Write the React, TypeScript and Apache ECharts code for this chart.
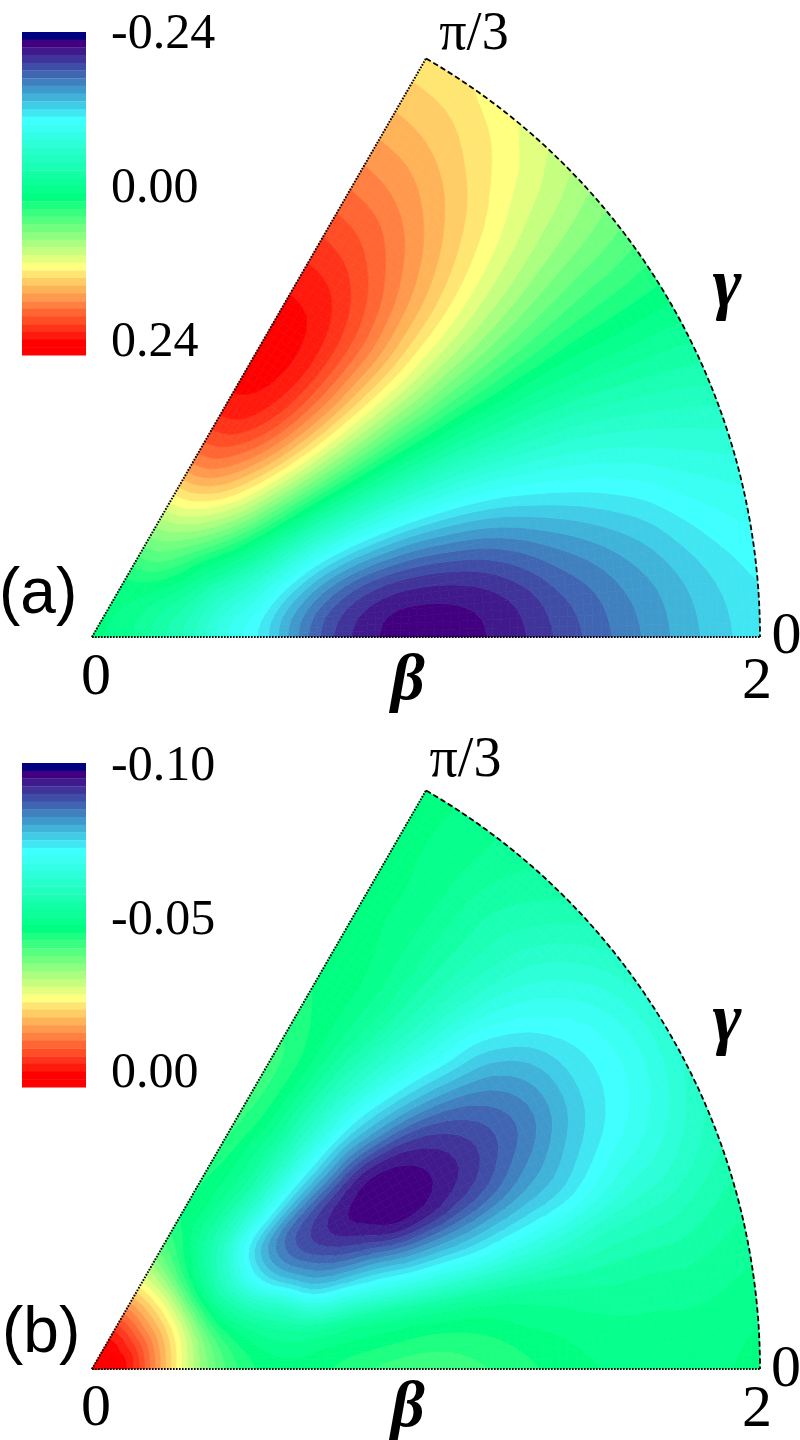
import React, { useEffect, useRef } from "react";
import * as echarts from "echarts";

const betaValues = [0, 0.1, 0.2, 0.3, 0.4, 0.5, 0.6, 0.7, 0.8, 0.9, 1.0, 1.1, 1.2, 1.3, 1.4, 1.5, 1.6, 1.7, 1.8, 1.9, 2.0];
const gammaValues = [0, 5, 10, 15, 20, 25, 30, 35, 40, 45, 50, 55, 60];

// rows: beta, columns: gamma
const surfaceA = [
  [0.002, 0.002, 0.002, 0.002, 0.002, 0.002, 0.002, 0.002, 0.002, 0.002, 0.002, 0.002, 0.002],
  [-0.008, -0.008, -0.007, -0.007, -0.006, -0.004, -0.003, -0.002, -0.001, 0, 0.001, 0.002, 0.002],
  [-0.03, -0.029, -0.027, -0.024, -0.02, -0.015, -0.01, -0.004, 0.001, 0.005, 0.008, 0.01, 0.011],
  [-0.055, -0.053, -0.049, -0.041, -0.031, -0.019, -0.007, 0.006, 0.018, 0.028, 0.036, 0.04, 0.042],
  [-0.09, -0.087, -0.079, -0.066, -0.049, -0.028, -0.007, 0.014, 0.035, 0.052, 0.065, 0.073, 0.076],
  [-0.116, -0.112, -0.1, -0.082, -0.058, -0.029, 0.001, 0.031, 0.06, 0.084, 0.102, 0.114, 0.118],
  [-0.154, -0.149, -0.133, -0.108, -0.076, -0.037, 0.003, 0.044, 0.082, 0.114, 0.139, 0.155, 0.16],
  [-0.188, -0.182, -0.163, -0.133, -0.094, -0.048, 0.001, 0.05, 0.096, 0.135, 0.165, 0.184, 0.19],
  [-0.21, -0.204, -0.184, -0.149, -0.105, -0.054, 0, 0.055, 0.106, 0.15, 0.185, 0.206, 0.212],
  [-0.2205, -0.216, -0.195, -0.157, -0.11, -0.057, 0.0005, 0.0575, 0.111, 0.158, 0.196, 0.216, 0.2213],
  [-0.224, -0.219, -0.198, -0.16, -0.112, -0.058, 0, 0.058, 0.112, 0.16, 0.199, 0.22, 0.224],
  [-0.222, -0.217, -0.196, -0.158, -0.111, -0.057, 0, 0.057, 0.111, 0.158, 0.197, 0.218, 0.222],
  [-0.216, -0.211, -0.19, -0.154, -0.108, -0.056, 0, 0.056, 0.108, 0.154, 0.19, 0.211, 0.216],
  [-0.206, -0.2, -0.179, -0.146, -0.103, -0.053, -0.001, 0.053, 0.102, 0.145, 0.179, 0.199, 0.205],
  [-0.192, -0.185, -0.166, -0.136, -0.096, -0.05, 0, 0.05, 0.096, 0.136, 0.166, 0.185, 0.192],
  [-0.179, -0.173, -0.155, -0.127, -0.09, -0.047, -0.001, 0.046, 0.089, 0.126, 0.154, 0.172, 0.178],
  [-0.166, -0.16, -0.144, -0.118, -0.084, -0.044, -0.001, 0.042, 0.082, 0.116, 0.142, 0.158, 0.164],
  [-0.153, -0.148, -0.133, -0.109, -0.077, -0.04, -0.001, 0.038, 0.075, 0.107, 0.131, 0.146, 0.151],
  [-0.14, -0.135, -0.12, -0.098, -0.07, -0.036, 0, 0.035, 0.069, 0.098, 0.12, 0.134, 0.139],
  [-0.128, -0.123, -0.109, -0.09, -0.064, -0.033, 0, 0.033, 0.064, 0.091, 0.111, 0.124, 0.128],
  [-0.118, -0.114, -0.102, -0.084, -0.059, -0.03, 0, 0.03, 0.059, 0.084, 0.102, 0.114, 0.118],
];

const surfaceB = [
  [-0.001, -0.001, -0.001, -0.001, -0.001, -0.001, -0.001, -0.001, -0.001, -0.001, -0.001, -0.001, -0.001],
  [-0.0045, -0.0045, -0.0045, -0.0045, -0.0045, -0.0047, -0.0048, -0.0048, -0.0047, -0.0045, -0.0045, -0.0045, -0.0045],
  [-0.0185, -0.0183, -0.018, -0.0178, -0.0175, -0.0172, -0.017, -0.017, -0.0168, -0.0165, -0.016, -0.0157, -0.0155],
  [-0.033, -0.0328, -0.0325, -0.032, -0.0318, -0.0315, -0.0313, -0.031, -0.0305, -0.03, -0.0295, -0.029, -0.0285],
  [-0.043, -0.0435, -0.0445, -0.046, -0.048, -0.0495, -0.0505, -0.0505, -0.049, -0.047, -0.0445, -0.042, -0.04],
  [-0.048, -0.049, -0.051, -0.054, -0.058, -0.062, -0.065, -0.064, -0.061, -0.057, -0.053, -0.049, -0.047],
  [-0.049, -0.051, -0.054, -0.059, -0.066, -0.0745, -0.078, -0.077, -0.071, -0.062, -0.055, -0.05, -0.0475],
  [-0.048, -0.05, -0.055, -0.066, -0.0765, -0.083, -0.087, -0.085, -0.075, -0.064, -0.055, -0.05, -0.047],
  [-0.046, -0.049, -0.054, -0.067, -0.079, -0.088, -0.092, -0.089, -0.078, -0.066, -0.056, -0.05, -0.0452],
  [-0.0445, -0.048, -0.054, -0.068, -0.08, -0.091, -0.0955, -0.092, -0.08, -0.068, -0.057, -0.049, -0.0445],
  [-0.044, -0.047, -0.054, -0.069, -0.082, -0.0945, -0.0968, -0.0945, -0.082, -0.069, -0.058, -0.049, -0.044],
  [-0.0445, -0.047, -0.054, -0.069, -0.082, -0.094, -0.0965, -0.0935, -0.081, -0.0695, -0.058, -0.049, -0.0445],
  [-0.0454, -0.048, -0.054, -0.069, -0.081, -0.0915, -0.0945, -0.091, -0.0795, -0.068, -0.0575, -0.0495, -0.0465],
  [-0.047, -0.0495, -0.0545, -0.0675, -0.079, -0.0885, -0.0915, -0.088, -0.0775, -0.0665, -0.0565, -0.05, -0.0475],
  [-0.0486, -0.0505, -0.055, -0.066, -0.077, -0.0845, -0.088, -0.085, -0.0755, -0.065, -0.056, -0.05, -0.048],
  [-0.0498, -0.0515, -0.0555, -0.064, -0.075, -0.081, -0.0845, -0.082, -0.0745, -0.064, -0.056, -0.0505, -0.0485],
  [-0.0505, -0.052, -0.0555, -0.062, -0.0715, -0.077, -0.08, -0.0785, -0.072, -0.063, -0.056, -0.051, -0.049],
  [-0.0508, -0.052, -0.055, -0.061, -0.068, -0.0735, -0.0755, -0.0745, -0.0695, -0.062, -0.056, -0.051, -0.049],
  [-0.0507, -0.052, -0.055, -0.06, -0.066, -0.0705, -0.0725, -0.0715, -0.067, -0.061, -0.056, -0.051, -0.0495],
  [-0.0502, -0.0515, -0.054, -0.058, -0.063, -0.067, -0.069, -0.068, -0.064, -0.059, -0.055, -0.051, -0.0495],
  [-0.049, -0.0505, -0.053, -0.056, -0.06, -0.063, -0.065, -0.064, -0.061, -0.057, -0.054, -0.051, -0.049],
];

// legend bands, from the most negative value (top of the bar) to the largest (bottom)
const bandColors = [
  "#000080", "#400080", "#401A8D", "#403399", "#404DA6", "#4066B3", "#4080BF", "#4099CC", "#40B3D9", "#40CCE6", "#40E6F2",
  "#40FFFF", "#3AFFF3", "#33FFE6", "#2DFFD9", "#26FFCC", "#20FFC0", "#1AFFB3", "#13FFA6", "#0DFF99", "#06FF8D", "#00FF80",
  "#1CFF80", "#38FF80", "#55FF80", "#71FF80", "#8DFF80", "#AAFF80", "#C6FF80", "#E2FF80", "#FFFF80",
  "#FFE673", "#FFCC66", "#FFB359", "#FF994D", "#FF8040", "#FF6633", "#FF4D26", "#FF331A", "#FF1A0D", "#FF0000", "#FF0000",
];

const rangeA: [number, number] = [-0.24, 0.24];
const rangeB: [number, number] = [-0.1, 0];

const panelLabelsA = ["-0.24", "0.00", "0.24"];
const panelLabelsB = ["-0.10", "-0.05", "0.00"];
const edgeLabels = ["0", "2", "0", "π/3"];

const origin = [
  [92, 637],
  [92, 1369],
];
const RADIUS = 668;
const SUB = 4;

const SERIF = '"Liberation Serif"';
const SANS = '"Liberation Sans"';

type P = [number, number, number];

function clip(poly: P[], level: number, keepAbove: boolean): P[] {
  const out: P[] = [];
  for (let i = 0; i < poly.length; i++) {
    const a = poly[i];
    const b = poly[(i + 1) % poly.length];
    const ai = keepAbove ? a[2] >= level : a[2] <= level;
    const bi = keepAbove ? b[2] >= level : b[2] <= level;
    if (ai) out.push(a);
    if (ai !== bi) {
      const t = (level - a[2]) / (b[2] - a[2]);
      out.push([a[0] + (b[0] - a[0]) * t, a[1] + (b[1] - a[1]) * t, level]);
    }
  }
  return out;
}

// Catmull-Rom weights: the contour bands are drawn as smooth curves through the read table
function spline(p0: number, p1: number, p2: number, p3: number, t: number) {
  return (
    0.5 *
    (2 * p1 + (p2 - p0) * t + (2 * p0 - 5 * p1 + 4 * p2 - p3) * t * t + (3 * p1 - p0 - 3 * p2 + p3) * t * t * t)
  );
}

function sample(surface: number[][], i: number, j: number, u: number, w: number) {
  const rows = surface.length - 1;
  const cols = surface[0].length - 1;
  const col = (r: number) => {
    const row = surface[Math.max(0, Math.min(rows, r))];
    const at = (c: number) => row[Math.max(0, Math.min(cols, c))];
    return spline(at(j - 1), at(j), at(j + 1), at(j + 2), w);
  };
  return spline(col(i - 1), col(i), col(i + 1), col(i + 2), u);
}

function cellItems() {
  const items: number[][] = [];
  for (let i = 0; i < betaValues.length - 1; i++) {
    for (let j = 0; j < gammaValues.length - 1; j++) {
      items.push([betaValues[i], gammaValues[j], i, j]);
    }
  }
  return items;
}

function contourSeries(surface: number[][], range: [number, number], polarIndex: number) {
  const step = (range[1] - range[0]) / bandColors.length;
  return {
    type: "custom",
    coordinateSystem: "polar",
    polarIndex,
    silent: true,
    encode: { radius: 0, angle: 1 },
    data: cellItems(),
    renderItem: (_: any, api: any) => {
      const i = api.value(2);
      const j = api.value(3);
      const b0 = betaValues[i], b1 = betaValues[i + 1];
      const g0 = gammaValues[j], g1 = gammaValues[j + 1];
      const children: any[] = [];
      const vertex = (a: number, c: number): P => [
        b0 + ((b1 - b0) * a) / SUB,
        g0 + ((g1 - g0) * c) / SUB,
        sample(surface, i, j, a / SUB, c / SUB),
      ];
      for (let a = 0; a < SUB; a++) {
        for (let c = 0; c < SUB; c++) {
          const corners = [vertex(a, c), vertex(a + 1, c), vertex(a + 1, c + 1), vertex(a, c + 1)];
          const vals = corners.map((p) => p[2]);
          const vMin = Math.min(...vals);
          const vMax = Math.max(...vals);
          bandColors.forEach((color, k) => {
            const lo = range[0] + k * step;
            const hi = lo + step;
            const first = k === 0;
            const last = k === bandColors.length - 1;
            if ((!last && vMin >= hi) || (!first && vMax < lo)) return;
            let poly = corners;
            if (!first) poly = clip(poly, lo, true);
            if (poly.length && !last) poly = clip(poly, hi, false);
            if (poly.length < 3) return;
            children.push({
              type: "polygon",
              shape: { points: poly.map((p) => api.coord([p[0], p[1]])) },
              style: { fill: color, stroke: color, lineWidth: 0.7 },
              silent: true,
            });
          });
        }
      }
      return { type: "group", children };
    },
    z: 2,
  };
}

function outlineSeries(polarIndex: number) {
  return {
    type: "custom",
    coordinateSystem: "polar",
    polarIndex,
    silent: true,
    encode: { radius: 0, angle: 1 },
    data: [[2, 60]],
    renderItem: (_: any, api: any) => {
      const o = api.coord([0, 0]);
      const e = api.coord([2, 0]);
      const t = api.coord([2, 60]);
      const r = e[0] - o[0];
      const dotted = { stroke: "#000", lineWidth: 2, lineDash: [1.6, 1.4], fill: null };
      return {
        type: "group",
        children: [
          { type: "line", shape: { x1: o[0], y1: o[1], x2: e[0], y2: e[1] }, style: dotted },
          { type: "line", shape: { x1: o[0], y1: o[1], x2: t[0], y2: t[1] }, style: dotted },
          {
            type: "arc",
            shape: { cx: o[0], cy: o[1], r, startAngle: -Math.PI / 3, endAngle: 0, clockwise: true },
            style: { stroke: "#000", lineWidth: 1.8, lineDash: [5.5, 3], fill: null },
          },
        ],
      };
    },
    z: 5,
  };
}

function legendSeries(range: [number, number], gridIndex: number) {
  const step = (range[1] - range[0]) / bandColors.length;
  return {
    type: "custom",
    coordinateSystem: "cartesian2d",
    xAxisIndex: gridIndex,
    yAxisIndex: gridIndex,
    silent: true,
    encode: { x: 0, y: 1 },
    data: bandColors.map((_, k) => [0, range[0] + k * step, k]),
    renderItem: (_: any, api: any) => {
      const k = api.value(2);
      const a = api.coord([0, api.value(1)]);
      const b = api.coord([1, api.value(1) + step]);
      return {
        type: "rect",
        shape: { x: a[0], y: a[1], width: b[0] - a[0], height: b[1] - a[1] + 0.4 },
        style: { fill: bandColors[k] },
      };
    },
  };
}

function label(text: string, x: number, y: number, font: string, textAlign = "center") {
  return {
    type: "text",
    silent: true,
    z: 10,
    style: { text, x, y, font, fill: "#000", textAlign, verticalAlign: "middle" },
  };
}

export default function App() {
  const ref = useRef<HTMLDivElement>(null);
  useEffect(() => {
    if (!ref.current) return;
    const chart = echarts.init(ref.current, undefined, { renderer: "svg" });
    const axisOff = { show: false };
    const legendFont = `50px ${SERIF}`;
    const bigFont = `60px ${SERIF}`;
    const betaFont = `italic bold 66px ${SERIF}`;
    const gammaFont = `italic bold 70px ${SERIF}`;
    chart.setOption({
      animation: false,
      backgroundColor: "#fff",
      polar: origin.map((c) => ({ center: c, radius: [0, RADIUS] })),
      angleAxis: [0, 1].map((i) => ({
        polarIndex: i, type: "value", min: 0, max: 360, startAngle: 0, clockwise: false, ...axisOff,
      })),
      radiusAxis: [0, 1].map((i) => ({ polarIndex: i, type: "value", min: 0, max: 2, ...axisOff })),
      grid: [
        { left: 22, top: 32, width: 64, height: 323 },
        { left: 22, top: 763, width: 64, height: 324 },
      ],
      xAxis: [0, 1].map((i) => ({ gridIndex: i, type: "value", min: 0, max: 1, ...axisOff })),
      yAxis: [rangeA, rangeB].map((r, i) => ({
        gridIndex: i, type: "value", min: r[0], max: r[1], inverse: true, ...axisOff,
      })),
      series: [
        contourSeries(surfaceA, rangeA, 0),
        contourSeries(surfaceB, rangeB, 1),
        outlineSeries(0),
        outlineSeries(1),
        legendSeries(rangeA, 0),
        legendSeries(rangeB, 1),
      ],
      graphic: [
        label(panelLabelsA[0], 111, 31, legendFont, "left"),
        label(panelLabelsA[1], 111, 185, legendFont, "left"),
        label(panelLabelsA[2], 111, 338.5, legendFont, "left"),
        label(panelLabelsB[0], 111, 763, legendFont, "left"),
        label(panelLabelsB[1], 111, 916.5, legendFont, "left"),
        label(panelLabelsB[2], 111, 1070, legendFont, "left"),
        label("(a)", -1, 591, `64px ${SANS}`, "left"),
        label("(b)", 2, 1330, `64px ${SANS}`, "left"),
        label(edgeLabels[0], 96, 674, bigFont),
        label(edgeLabels[1], 757, 678, bigFont),
        label(edgeLabels[2], 786.5, 633, bigFont),
        label(edgeLabels[3], 474, 30.5, `54px ${SERIF}`),
        label(edgeLabels[0], 96, 1405, bigFont),
        label(edgeLabels[1], 757, 1406, bigFont),
        label(edgeLabels[2], 786, 1366, bigFont),
        label(edgeLabels[3], 465.5, 757, `56px ${SERIF}`),
        label("β", 408, 676, betaFont),
        label("β", 408, 1403, betaFont),
        label("γ", 727, 282, gammaFont),
        label("γ", 727, 1017, gammaFont),
      ],
    });
    return () => chart.dispose();
  }, []);
  return <div ref={ref} style={{ position: "absolute", left: 0, top: 0, width: 800, height: 1440 }} />;
}
